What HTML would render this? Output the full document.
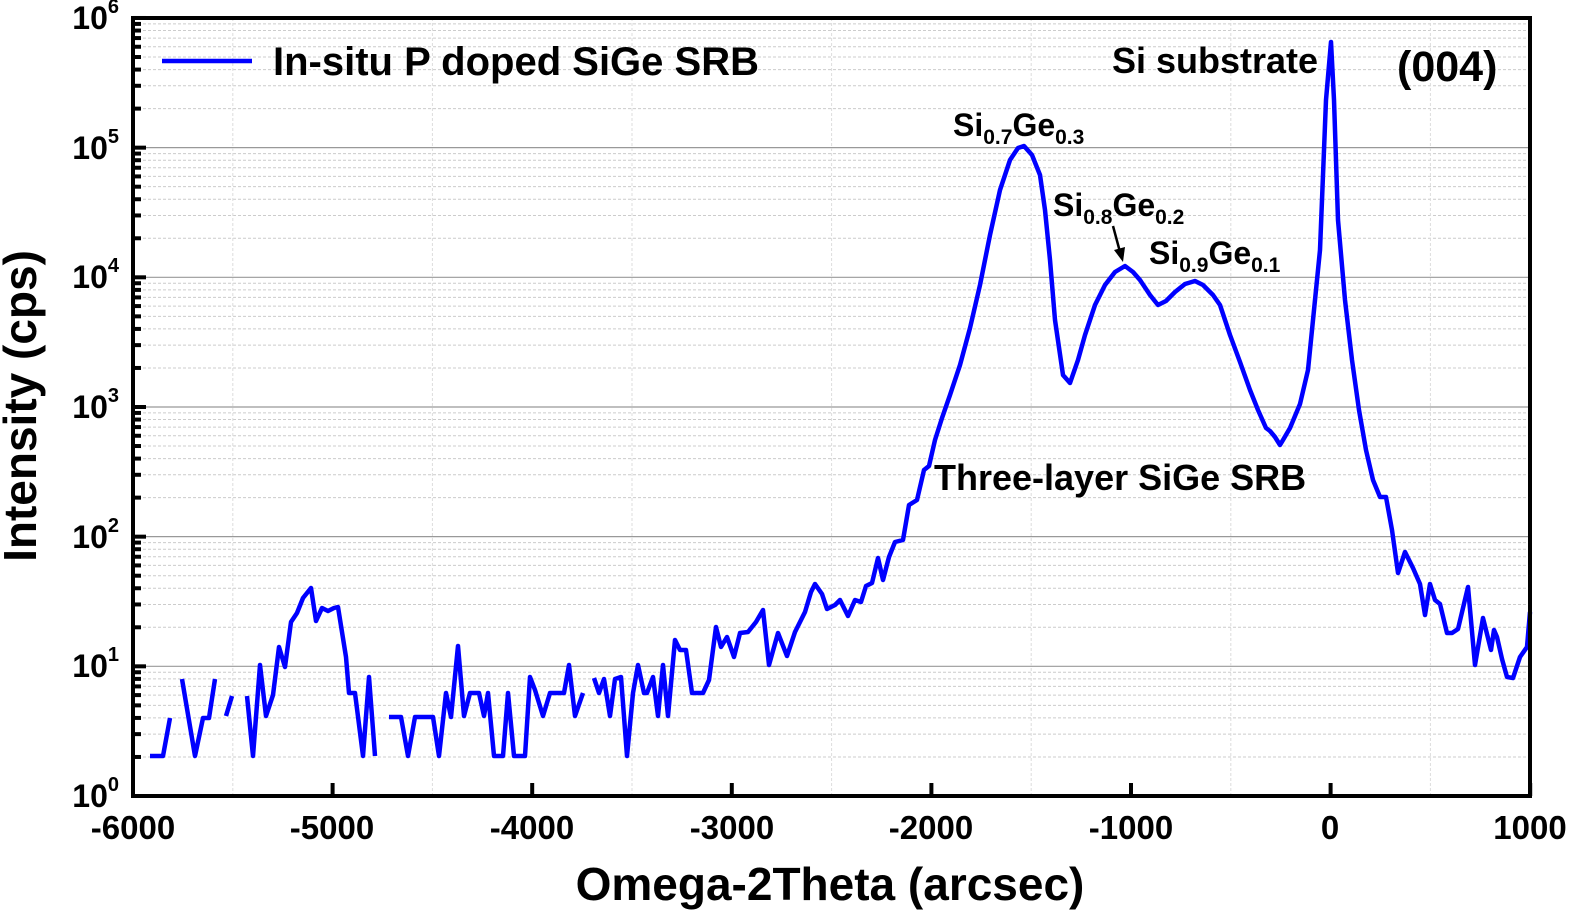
<!DOCTYPE html>
<html><head><meta charset="utf-8"><style>
body{margin:0;background:#fff}
svg{display:block}
text{font-family:"Liberation Sans",Arial,sans-serif;font-weight:bold;fill:#000}
</style></head><body>
<svg width="1570" height="912" viewBox="0 0 1570 912" xmlns="http://www.w3.org/2000/svg">
<g id="grid"></g>
<g fill="none" stroke="#0000ff" stroke-width="4.5" stroke-linejoin="round">
<polyline points="150,756 163,756 170,718"/>
<polyline points="182,679 195,756 203,718 209,718 215,679"/>
<polyline points="226,716 232,696"/>
<polyline points="247,696 253,756 260,665 266,716 273,695 279,647 285,667 291,622 297,613 303,598 311,588 316,621 322,608 328,611 334,608 338,607 346,657 349,693 355,693 363,756 369,677 375,756"/>
<polyline points="389,717 401,717 408,756 415,717 433,717 439,756 446,693 451,717 458,646 464,716 470,693 479,693 484,716 488,693 494,756 503,756 508,693 514,756 525,756 530,677 535,690 543,716 550,693 564,693 569,665 575,716 583,693"/>
<polyline points="594,678 599,693 604,679 610,716 615,679 621,677 627,756 633,693 638,665 644,693 647,693 653,677 658,716 663,665 668,716 675,640 680,650 686,650 692,693 703,693 709,680 716,627 721,647 727,637 734,657 740,633 748,632 756,622 763,610 769,665 778,633 787,656 795,632 805,612 811,592 815,584 822,594 827,609 835,605 840,600 848,616 855,600 861,602 866,586 872,583 878,558 883,580 889,557 895,542 903,540 909,505 917,500 924,470 929,466 935,440 942,418 950,395 960,365 970,328 980,285 990,235 1000,190 1010,160 1018,148 1024,146 1032,155 1040,175 1045,210 1050,260 1055,320 1063,375 1070,383 1078,360 1085,335 1095,305 1105,285 1115,272 1125,266 1133,272 1140,280 1150,295 1158,305 1166,301 1175,292 1185,284 1195,281 1203,285 1213,295 1220,305 1230,335 1240,362 1250,390 1258,410 1266,428 1270,431 1275,437 1280,445 1283,440 1290,428 1300,404 1308,370 1315,300 1320,250 1326,100 1331,42 1334,100 1338,220 1345,300 1352,360 1359,410 1366,450 1373,480 1380,497 1386,497 1392,530 1398,573 1405,552 1413,568 1420,584 1425,615 1430,584 1435,600 1440,604 1447,633 1452,633 1458,629 1468,587 1475,665 1483,618 1491,650 1494,630 1497,637 1502,659 1507,677 1513,678 1520,657 1527,647 1530,612"/>
</g>
<rect x="133" y="18" width="1397" height="778" fill="none" stroke="#000" stroke-width="4"/>
<g id="ticks" stroke="#000" stroke-width="4"></g>
<line x1="162" y1="61" x2="252" y2="61" stroke="#0000ff" stroke-width="4.5"/>
<text x="273" y="75" font-size="40">In-situ P doped SiGe SRB</text>
<text x="1112" y="73" font-size="36">Si substrate</text>
<text x="1397" y="81" font-size="43">(004)</text>
<text x="953" y="136" font-size="32">Si<tspan font-size="21" dy="8">0.7</tspan><tspan dy="-8">Ge</tspan><tspan font-size="21" dy="8">0.3</tspan></text>
<text x="1053" y="216" font-size="32">Si<tspan font-size="21" dy="8">0.8</tspan><tspan dy="-8">Ge</tspan><tspan font-size="21" dy="8">0.2</tspan></text>
<text x="1149" y="264" font-size="32">Si<tspan font-size="21" dy="8">0.9</tspan><tspan dy="-8">Ge</tspan><tspan font-size="21" dy="8">0.1</tspan></text>
<line x1="1113" y1="226" x2="1120" y2="252" stroke="#000" stroke-width="2.5"/>
<polygon points="1114,250 1123,262 1125,247" fill="#000"/>
<text x="934" y="490" font-size="36">Three-layer SiGe SRB</text>
<g font-size="33" text-anchor="middle">
<text x="133" y="839">-6000</text><text x="332" y="839">-5000</text><text x="532" y="839">-4000</text><text x="732" y="839">-3000</text><text x="931" y="839">-2000</text><text x="1131" y="839">-1000</text><text x="1330" y="839">0</text><text x="1530" y="839">1000</text>
</g>
<g font-size="32" text-anchor="end">
<text x="119" y="807">10<tspan font-size="20" dy="-16">0</tspan></text>
<text x="119" y="677">10<tspan font-size="20" dy="-16">1</tspan></text>
<text x="119" y="548">10<tspan font-size="20" dy="-16">2</tspan></text>
<text x="119" y="418">10<tspan font-size="20" dy="-16">3</tspan></text>
<text x="119" y="288">10<tspan font-size="20" dy="-16">4</tspan></text>
<text x="119" y="159">10<tspan font-size="20" dy="-16">5</tspan></text>
<text x="119" y="29">10<tspan font-size="20" dy="-16">6</tspan></text>
</g>
<text x="830" y="900" font-size="46" text-anchor="middle">Omega-2Theta (arcsec)</text>
<text transform="translate(36,406) rotate(-90)" font-size="46" text-anchor="middle">Intensity (cps)</text>
<script>
var ns="http://www.w3.org/2000/svg",g=document.getElementById('grid'),t=document.getElementById('ticks');
function L(p,x1,y1,x2,y2,a){var l=document.createElementNS(ns,'line');l.setAttribute('x1',x1);l.setAttribute('y1',y1);l.setAttribute('x2',x2);l.setAttribute('y2',y2);for(var k in a)l.setAttribute(k,a[k]);p.appendChild(l);}
var D=129.67;
for(var d=0;d<6;d++){var y0=796-d*D;
 for(var m=2;m<10;m++){var y=y0-Math.log10(m)*D;L(g,133,y,1530,y,{stroke:'#ccc','stroke-width':1,'stroke-dasharray':'3,2'});L(t,133,y,141,y,{});}
}
for(var d=0;d<=6;d++){var y=796-d*D;if(d>0&&d<6)L(g,133,y,1530,y,{stroke:'#999','stroke-width':1.2});L(t,133,y,146,y,{});}
for(var i=0;i<=14;i++){var x=133+i*99.8;if(i%2==1)L(g,x,18,x,796,{stroke:'#ddd','stroke-width':1,'stroke-dasharray':'3,2'});if(i%2==0){L(t,x,796,x,783,{});}}
</script>
</svg>
</body></html>
